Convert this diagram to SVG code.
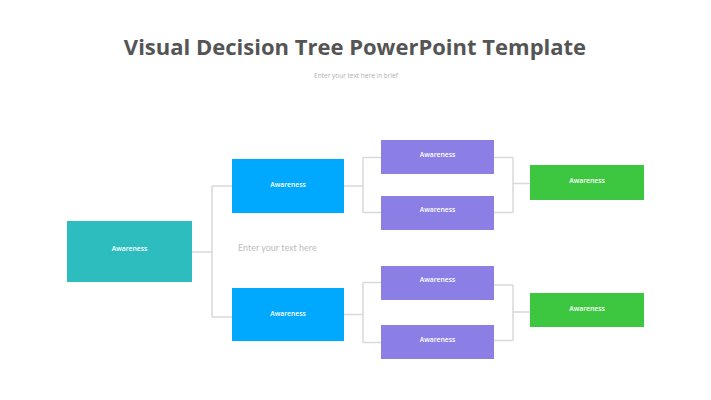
<svg xmlns="http://www.w3.org/2000/svg" width="711" height="400" viewBox="0 0 711 400">
<style>
.title{font-family:"Open Sans","Liberation Sans",sans-serif;font-weight:700;font-size:22px;fill:#555555}
.sub{font-family:"Open Sans","Liberation Sans",sans-serif;font-size:6.5px;fill:#b0b0b0}
.note{font-family:"Lato","Open Sans",sans-serif;font-size:9px;fill:#bdbdbd}
.lbl{font-family:"Open Sans","Liberation Sans",sans-serif;font-size:6.8px;fill:#ffffff;font-weight:600}
.teal{fill:#2EBDBE}
.blue{fill:#00A9FD}
.purple{fill:#8B7FE6}
.green{fill:#3DC63F}
.conn{fill:none;stroke:#d9d9d9;stroke-width:1.5}
</style>
<rect width="711" height="400" fill="#ffffff"/>
<text class="title" x="355" y="55" text-anchor="middle">Visual Decision Tree PowerPoint Template</text>
<text class="sub" x="356" y="77.5" text-anchor="middle">Enter your text here in brief</text>
<text class="note" x="238" y="251">Enter your text here</text>
<g id="connectors">
<path class="conn" d="M192 252H212M212 186V317M212 186H232M212 317H232"/>
<path class="conn" d="M344 186H363M363 157.5V212.5M363 157.5H381M363 212.5H381"/>
<path class="conn" d="M344 314.5H363M363 282.5V342.5M363 282.5H381M363 342.5H381"/>
<path class="conn" d="M494 157.5H513M494 212.5H513M513 157.5V212.5M513 183.5H530"/>
<path class="conn" d="M494 285H513M494 340.5H513M513 285V340.5M513 312H530"/>
</g>
<g id="root">
<rect class="teal" x="67" y="221" width="125" height="61"/>
<text class="lbl" x="129.5" y="250.5" text-anchor="middle">Awareness</text>
</g>
<g id="b1">
<rect class="blue" x="232" y="159" width="112" height="54"/>
<text class="lbl" x="288" y="186.5" text-anchor="middle">Awareness</text>
</g>
<g id="b2">
<rect class="blue" x="232" y="288" width="112" height="53"/>
<text class="lbl" x="288" y="315.5" text-anchor="middle">Awareness</text>
</g>
<g id="p1">
<rect class="purple" x="381" y="140" width="113" height="34"/>
<text class="lbl" x="437.5" y="156.5" text-anchor="middle">Awareness</text>
</g>
<g id="p2">
<rect class="purple" x="381" y="196" width="113" height="34"/>
<text class="lbl" x="437.5" y="211.5" text-anchor="middle">Awareness</text>
</g>
<g id="p3">
<rect class="purple" x="381" y="266" width="113" height="34"/>
<text class="lbl" x="437.5" y="282" text-anchor="middle">Awareness</text>
</g>
<g id="p4">
<rect class="purple" x="381" y="325" width="113" height="34"/>
<text class="lbl" x="437.5" y="341.5" text-anchor="middle">Awareness</text>
</g>
<g id="g1">
<rect class="green" x="530" y="165" width="114" height="35"/>
<text class="lbl" x="587" y="182.5" text-anchor="middle">Awareness</text>
</g>
<g id="g2">
<rect class="green" x="530" y="293" width="114" height="34"/>
<text class="lbl" x="587" y="311" text-anchor="middle">Awareness</text>
</g>
</svg>
